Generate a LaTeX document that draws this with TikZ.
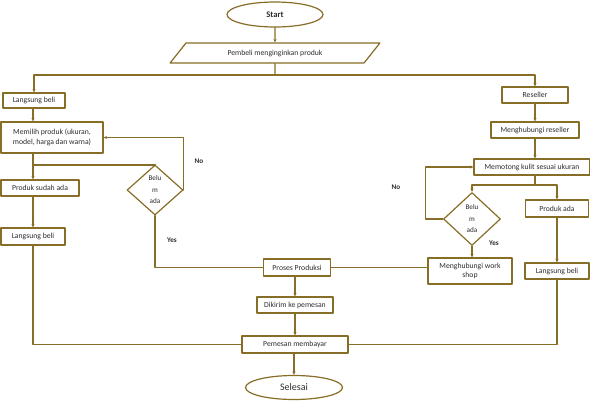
\documentclass[tikz,border=0pt]{standalone}
\usepackage{fontspec}
\setmainfont{Carlito}
\usetikzlibrary{arrows.meta,shapes.geometric}
\definecolor{linegold}{RGB}{135,110,38}
\definecolor{textgray}{RGB}{45,45,45}

\begin{document}
\begin{tikzpicture}[x=1pt,y=-1pt,>={Stealth[length=3.4pt,width=3pt]},line cap=round,line join=round,
  flowline/.style={draw=linegold,line width=1.1pt},
  stepbox/.style={draw=linegold,line width=1.2pt,fill=white,text=textgray,inner sep=1pt,align=center,font=\fontsize{7.7}{9.4}\selectfont},
  terminal/.style={ellipse,draw=linegold,line width=1.2pt,fill=white,text=textgray,inner sep=0pt},
  decision/.style={diamond,draw=linegold,line width=1.2pt,fill=white,text=textgray,inner sep=0.5pt,align=center,font=\fontsize{7.2}{11.5}\selectfont},
  answer/.style={font=\bfseries\fontsize{7.2}{8}\selectfont,text=textgray}]
\useasboundingbox (0,0) rectangle (590,400);
\coordinate (split) at (275,75);
\coordinate (forkL) at (33,165);
\coordinate (forkR) at (535,185);
% top
\node[terminal,minimum width=96,minimum height=25,font=\bfseries\fontsize{8.6}{10}\selectfont] (start) at (275,14.5) {Start};
\node[trapezium,trapezium left angle=45,trapezium right angle=135,trapezium stretches=true,draw=linegold,line width=1.2pt,fill=white,text=textgray,inner sep=1pt,minimum width=210,minimum height=20,font=\fontsize{7.7}{9}\selectfont] (buyer) at (275,53) {Pembeli menginginkan produk};
% left branch
\node[stepbox,minimum width=62,minimum height=15] (directL) at (34,100.5) {Langsung beli};
\node[stepbox,minimum width=102,minimum height=31] (choose) at (52,137.5) {Memilih produk (ukuran,\\model, harga dan warna)};
\node[stepbox,minimum width=78,minimum height=16] (ready) at (40,188) {Produk sudah ada};
\node[stepbox,minimum width=64,minimum height=17] (directL2) at (33,236.5) {Langsung beli};
\node[decision,minimum width=56,minimum height=50] (notyetL) at (155,190) {Belu\\m\\ada};
% right branch
\node[stepbox,minimum width=66,minimum height=16] (reseller) at (535,95) {Reseller};
\node[stepbox,minimum width=88,minimum height=16] (contact) at (535,130) {Menghubungi reseller};
\node[stepbox,minimum width=116,minimum height=16] (cut) at (532,167) {Memotong kulit sesuai ukuran};
\node[decision,minimum width=57,minimum height=53] (notyetR) at (472,219) {Belu\\m\\ada};
\node[stepbox,minimum width=63,minimum height=17] (avail) at (557,208.5) {Produk ada};
\node[stepbox,minimum width=64,minimum height=16] (directR) at (557,271) {Langsung beli};
\node[stepbox,minimum width=84,minimum height=26] (workshop) at (470,271) {Menghubungi work\\shop};
% middle
\node[stepbox,minimum width=67,minimum height=17] (produce) at (297,267.5) {Proses Produksi};
\node[stepbox,minimum width=76,minimum height=16] (ship) at (295,305) {Dikirim ke pemesan};
\node[stepbox,minimum width=106,minimum height=17] (pay) at (295,344.5) {Pemesan membayar};
\node[terminal,minimum width=97,minimum height=24,font=\fontsize{10}{12}\selectfont] (finish) at (294,387.5) {Selesai};
% connectors
\draw[flowline,->] (start) -- (buyer);
\draw[flowline] (buyer.south) -- (split);
\draw[flowline,->] (split) -| (directL);
\draw[flowline,->] (split) -| (reseller);
\draw[flowline,->] (directL.south -| forkL) -- (choose.north -| forkL);
\draw[flowline] (choose.south -| forkL) -- (forkL);
\draw[flowline,->] (forkL) -- (ready.north -| forkL);
\draw[flowline] (forkL) -| (notyetL.north);
\draw[flowline,->] (notyetL.east) |- (choose.east);
\draw[flowline] (notyetL.south) |- (produce.west);
\draw[flowline,->] (ready.south -| forkL) -- (directL2.north -| forkL);
\draw[flowline] (directL2.south -| forkL) |- (pay.west);
\draw[flowline,->] (reseller) -- (contact);
\draw[flowline,->] (contact) -- (cut.north -| contact);
\draw[flowline] (cut.south -| forkR) -- (forkR);
\draw[flowline,->] (forkR) -| (notyetR.north);
\draw[flowline,->] (forkR) -| (avail.north);
\draw[flowline,->] (notyetR.west) -- ++(-17,0) |- (cut.west);
\draw[flowline,->] (notyetR.south) -- (workshop.north -| notyetR.south);
\draw[flowline] (workshop.west |- produce.east) -- (produce.east);
\draw[flowline,->] (avail) -- (directR);
\draw[flowline] (directR.south) |- (pay.east);
\draw[flowline,->] (produce.south -| ship) -- (ship.north);
\draw[flowline,->] (ship) -- (pay);
\draw[flowline,->] (pay.south -| finish) -- (finish.north);
% answers
\node[answer] (noL) at (199,161) {No};
\node[answer] (yesL) at (172,240) {Yes};
\node[answer] (noR) at (396,187) {No};
\node[answer] (yesR) at (494,243) {Yes};
\end{tikzpicture}
\end{document}
